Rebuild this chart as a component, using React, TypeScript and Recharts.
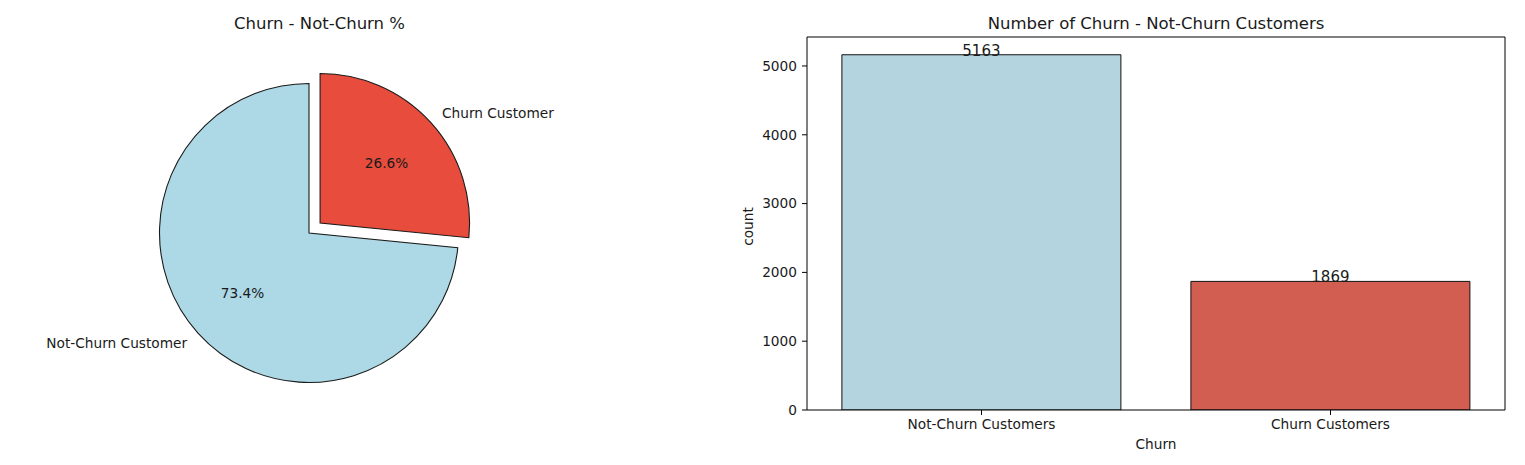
import React from 'react';
import { PieChart, Pie, Cell, BarChart, Bar, XAxis, YAxis, LabelList } from 'recharts';

// ---- data ----
const pieNames = ['Not-Churn Customer', 'Churn Customer'];
const pieValues = [5163, 1869];
const pieColors = ['#add8e6', '#e74c3c'];
const pieExplode = [0, 0.1];

const barCategories = ['Not-Churn Customers', 'Churn Customers'];
const barValues = [5163, 1869];
const barColors = ['#b4d4df', '#d25e51'];
const yTicks = [0, 1000, 2000, 3000, 4000, 5000];

const pieTitle = 'Churn - Not-Churn %';
const barTitle = 'Number of Churn - Not-Churn Customers';
const xLabel = 'Churn';
const yLabel = 'count';

// ---- style ----
const FONT = '"DejaVu Sans", Verdana, sans-serif';
const TXT = '#1a1a1a';
const RAD = Math.PI / 180;
const PIE_CX = 309;
const PIE_CY = 233;
const PIE_R = 149.5;
const START = 90;

const pieData = pieNames.map((n, i) => ({ name: n, value: pieValues[i] }));
const total = pieValues.reduce((a, b) => a + b, 0);
const midAngles = (() => {
  let acc = START;
  return pieValues.map((v) => {
    const span = (v / total) * 360;
    const m = acc + span / 2;
    acc += span;
    return m;
  });
})();

const barData = barCategories.map((c, i) => ({ name: c, count: barValues[i] }));
const yMax = Math.max(...barValues) * 1.05;

const makePieLabel = (visible: number, cx: number, cy: number) => (props: any) => {
  const { index } = props;
  if (index !== visible) return null;
  const mid = midAngles[index];
  const a = -mid * RAD;
  const lx = cx + 1.1 * PIE_R * Math.cos(a);
  const ly = cy + 1.1 * PIE_R * Math.sin(a);
  const px = cx + 0.6 * PIE_R * Math.cos(a);
  const py = cy + 0.6 * PIE_R * Math.sin(a);
  const pct = ((pieValues[index] / total) * 100).toFixed(1) + '%';
  return (
    <g>
      <text x={lx} y={ly} textAnchor={lx > cx ? 'start' : 'end'} dominantBaseline="central"
        fontFamily={FONT} fontSize={13.7} fill={TXT}>{pieNames[index]}</text>
      <text x={px} y={py} textAnchor="middle" dominantBaseline="central"
        fontFamily={FONT} fontSize={13.7} fill={TXT}>{pct}</text>
    </g>
  );
};

const YLabel = (props: any) => {
  const vb = props.viewBox || { x: 0, y: 37, width: 107, height: 373 };
  const x = vb.x + 48;
  const y = vb.y + vb.height / 2 + 3;
  return (
    <text x={x} y={y} transform={`rotate(-90, ${x}, ${y})`} textAnchor="middle" dominantBaseline="central"
      fontFamily={FONT} fontSize={13.7} fill={TXT}>{yLabel}</text>
  );
};

const XLabel = (props: any) => {
  const vb = props.viewBox || { x: 107, y: 410, width: 698, height: 55 };
  return (
    <text x={vb.x + vb.width / 2} y={vb.y + 39} textAnchor="middle"
      fontFamily={FONT} fontSize={13.7} fill={TXT}>{xLabel}</text>
  );
};

const ValueLabel = (props: any) => {
  const { x, y, width, value } = props;
  return (
    <text x={Number(x) + Number(width) / 2} y={Number(y) + 1} textAnchor="middle"
      fontFamily={FONT} fontSize={15} fill={TXT}>{value}</text>
  );
};

export default function App() {
  const pies = pieData.map((_, k) => {
    const off = pieExplode[k] * PIE_R;
    const cx = PIE_CX + off * Math.cos(-midAngles[k] * RAD);
    const cy = PIE_CY + off * Math.sin(-midAngles[k] * RAD);
    return { k, cx, cy };
  });
  return (
    <div style={{ position: 'relative', width: 1525, height: 465, background: '#fff', fontFamily: FONT }}>
      <style>{`body{margin:0;background:#fff}`}</style>
      <div style={{ position: 'absolute', left: 0, top: 0 }}>
        <PieChart width={700} height={465} margin={{ top: 0, right: 0, bottom: 0, left: 0 }}>
          {pies.map(({ k, cx, cy }) => (
            <Pie
              key={k}
              data={pieData}
              dataKey="value"
              nameKey="name"
              cx={cx}
              cy={cy}
              outerRadius={PIE_R}
              innerRadius={0}
              startAngle={START}
              endAngle={START + 360}
              paddingAngle={0}
              isAnimationActive={false}
              labelLine={false}
              label={makePieLabel(k, cx, cy)}
            >
              {pieData.map((d, i) => (
                <Cell key={i} fill={i === k ? pieColors[i] : 'none'} stroke={i === k ? '#1a1a1a' : 'none'} strokeWidth={1.1} />
              ))}
            </Pie>
          ))}
        </PieChart>
      </div>
      <div style={{ position: 'absolute', left: 700, top: 0 }}>
        <BarChart width={825} height={465} data={barData} margin={{ top: 36, right: 19, bottom: 0, left: 0 }}
          barCategoryGap="10%">
          <XAxis xAxisId="b" dataKey="name" height={55} tickSize={5} tickMargin={4} stroke="#000"
            tick={{ fill: TXT, fontSize: 13.7, fontFamily: FONT }} interval={0} label={<XLabel />} />
          <XAxis xAxisId="t" dataKey="name" orientation="top" height={1} tick={false} tickLine={false}
            axisLine={{ stroke: '#000' }} stroke="#000" />
          <YAxis yAxisId="l" width={107} domain={[0, yMax]} ticks={yTicks} tickSize={5} tickMargin={5} stroke="#000"
            tick={{ fill: TXT, fontSize: 13.7, fontFamily: FONT }} allowDataOverflow label={<YLabel />} />
          <YAxis yAxisId="r" orientation="right" width={1} domain={[0, yMax]} tick={false} tickLine={false}
            axisLine={{ stroke: '#000' }} stroke="#000" />
          <Bar xAxisId="b" yAxisId="l" dataKey="count" stroke="#111" strokeWidth={1} isAnimationActive={false}>
            {barData.map((d, i) => (
              <Cell key={i} fill={barColors[i]} />
            ))}
            <LabelList dataKey="count" content={<ValueLabel />} />
          </Bar>
        </BarChart>
      </div>
      <svg width={1525} height={465} style={{ position: 'absolute', left: 0, top: 0, pointerEvents: 'none' }}>
        <text x={319.5} y={28.5} textAnchor="middle" fontFamily={FONT} fontSize={16.5} fill={TXT}>{pieTitle}</text>
        <text x={1156} y={28.5} textAnchor="middle" fontFamily={FONT} fontSize={16.5} fill={TXT}>{barTitle}</text>
      </svg>
    </div>
  );
}
